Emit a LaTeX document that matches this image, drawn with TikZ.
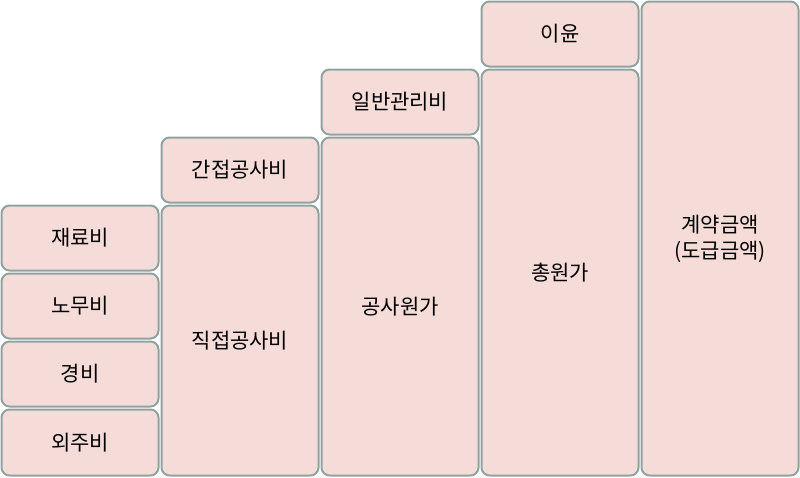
\documentclass[tikz,border=0pt]{standalone}
\usepackage{fontspec}
\newfontfamily\kr{Noto Sans CJK KR}
\definecolor{boxfill}{HTML}{F5DCD8}
\definecolor{boxline}{HTML}{8FA3A3}
\begin{document}
\begin{tikzpicture}[x=1pt,y=-1pt,
  cell/.style={draw=boxline,fill=boxfill,line width=2pt,rounded corners=8pt},
  lbl/.style={font=\kr\fontsize{21}{26}\selectfont,align=center}]
\useasboundingbox (0,0) rectangle (800,477);
\newcommand{\cellbox}[6]{%
  \draw[cell] (#1+1.5,#2+1.5) rectangle (#3-1.5,#4-1.5);
  \node[lbl] (#5) at ({(#1+#3)/2},{(#2+#4)/2}) {#6};}
\cellbox{0}{204}{160}{272}{a1}{재료비}
\cellbox{0}{272}{160}{340}{a2}{노무비}
\cellbox{0}{340}{160}{408}{a3}{경비}
\cellbox{0}{408}{160}{477}{a4}{외주비}
\cellbox{160}{136}{320}{204}{b1}{간접공사비}
\cellbox{160}{204}{320}{477}{b2}{직접공사비}
\cellbox{320}{68}{480}{136}{c1}{일반관리비}
\cellbox{320}{136}{480}{477}{c2}{공사원가}
\cellbox{480}{0}{640}{68}{d1}{이윤}
\cellbox{480}{68}{640}{477}{d2}{총원가}
\cellbox{640}{0}{800}{477}{e1}{계약금액\\(도급금액)}
\end{tikzpicture}
\end{document}
